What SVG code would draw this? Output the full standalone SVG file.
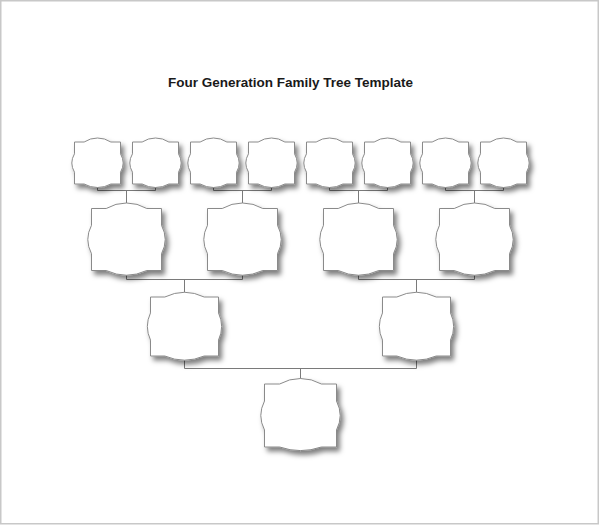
<svg xmlns="http://www.w3.org/2000/svg" xmlns:xlink="http://www.w3.org/1999/xlink" width="600" height="525" viewBox="0 0 600 525">
  <style>
    .frame { fill: #ffffff; stroke: #c8c8c8; stroke-width: 1.5; }
    .title { font-family: "Liberation Sans", Arial, sans-serif; font-size: 13.5px; font-weight: bold; fill: #1a1a1a; }
    .box { fill: #ffffff; stroke: #8a8a8a; stroke-width: 1; filter: url(#shadow); }
    .conn { fill: none; stroke: #7a7a7a; stroke-width: 1; }
  </style>
  <defs>
    <filter id="shadow" x="-30%" y="-30%" width="170%" height="170%">
      <feDropShadow dx="3" dy="4" stdDeviation="2.5" flood-color="#000000" flood-opacity="0.5"/>
    </filter>
    <path id="small" d="M-23,-21 H-13.35 A24.3,24.3 0 0 1 13.35,-21 H23 V-9.25 A18.4,18.4 0 0 1 23,9.25 V21 H13.35 A27.2,27.2 0 0 1 -13.35,21 H-23 V9.25 A18.4,18.4 0 0 1 -23,-9.25 Z"/>
    <path id="medium" d="M-35,-31 H-20.3 A40.2,40.2 0 0 1 20.3,-31 H35 V-14.25 A30.75,30.75 0 0 1 35,14.25 V31 H20.3 A48,48 0 0 1 -20.3,31 H-35 V14.25 A30.75,30.75 0 0 1 -35,-14.25 Z"/>
    <path id="third" d="M-34,-29.5 H-19.7 A45.4,45.4 0 0 1 19.7,-29.5 H34 V-13.6 A32.3,32.3 0 0 1 34,13.6 V29.5 H19.7 A50.5,50.5 0 0 1 -19.7,29.5 H-34 V13.6 A32.3,32.3 0 0 1 -34,-13.6 Z"/>
    <path id="root" d="M-36,-31.5 H-20.9 A42.5,42.5 0 0 1 20.9,-31.5 H36 V-14.5 A31.75,31.75 0 0 1 36,14.5 V31.5 H20.9 A64.2,64.2 0 0 1 -20.9,31.5 H-36 V14.5 A31.75,31.75 0 0 1 -36,-14.5 Z"/>
  </defs>

  <rect class="frame" x="0.75" y="0.75" width="597.5" height="523" />

  <text class="title" x="290.5" y="87" text-anchor="middle">Four Generation Family Tree Template</text>

  <g id="connectors">
    <path class="conn" d="M97.5,180 V190.5 H155.5 V180 M126.5,190.5 V206"/>
    <path class="conn" d="M213.5,180 V190.5 H271.5 V180 M242.5,190.5 V206"/>
    <path class="conn" d="M329.5,180 V190.5 H387.5 V180 M358.5,190.5 V206"/>
    <path class="conn" d="M445.5,180 V190.5 H503.5 V180 M474.5,190.5 V206"/>
    <path class="conn" d="M126.5,268 V279.5 H242.5 V268 M184.5,279.5 V295"/>
    <path class="conn" d="M358.5,268 V279.5 H474.5 V268 M416.5,279.5 V295"/>
    <path class="conn" d="M184.5,352 V368.5 H416.5 V352 M300.5,368.5 V382"/>
  </g>

  <g id="gen4-1"><use xlink:href="#small" href="#small" class="box" transform="translate(97.5,163)"/></g>
  <g id="gen4-2"><use xlink:href="#small" href="#small" class="box" transform="translate(155.5,163)"/></g>
  <g id="gen4-3"><use xlink:href="#small" href="#small" class="box" transform="translate(213.5,163)"/></g>
  <g id="gen4-4"><use xlink:href="#small" href="#small" class="box" transform="translate(271.5,163)"/></g>
  <g id="gen4-5"><use xlink:href="#small" href="#small" class="box" transform="translate(329.5,163)"/></g>
  <g id="gen4-6"><use xlink:href="#small" href="#small" class="box" transform="translate(387.5,163)"/></g>
  <g id="gen4-7"><use xlink:href="#small" href="#small" class="box" transform="translate(445.5,163)"/></g>
  <g id="gen4-8"><use xlink:href="#small" href="#small" class="box" transform="translate(503.5,163)"/></g>

  <g id="gen3-1"><use xlink:href="#medium" href="#medium" class="box" transform="translate(126.5,239.5)"/></g>
  <g id="gen3-2"><use xlink:href="#medium" href="#medium" class="box" transform="translate(242.5,239.5)"/></g>
  <g id="gen3-3"><use xlink:href="#medium" href="#medium" class="box" transform="translate(358.5,239.5)"/></g>
  <g id="gen3-4"><use xlink:href="#medium" href="#medium" class="box" transform="translate(474.5,239.5)"/></g>

  <g id="gen2-1"><use xlink:href="#third" href="#third" class="box" transform="translate(184.5,326.5)"/></g>
  <g id="gen2-2"><use xlink:href="#third" href="#third" class="box" transform="translate(416.5,326.5)"/></g>

  <g id="gen1"><use xlink:href="#root" href="#root" class="box" transform="translate(300.5,415.5)"/></g>
</svg>
